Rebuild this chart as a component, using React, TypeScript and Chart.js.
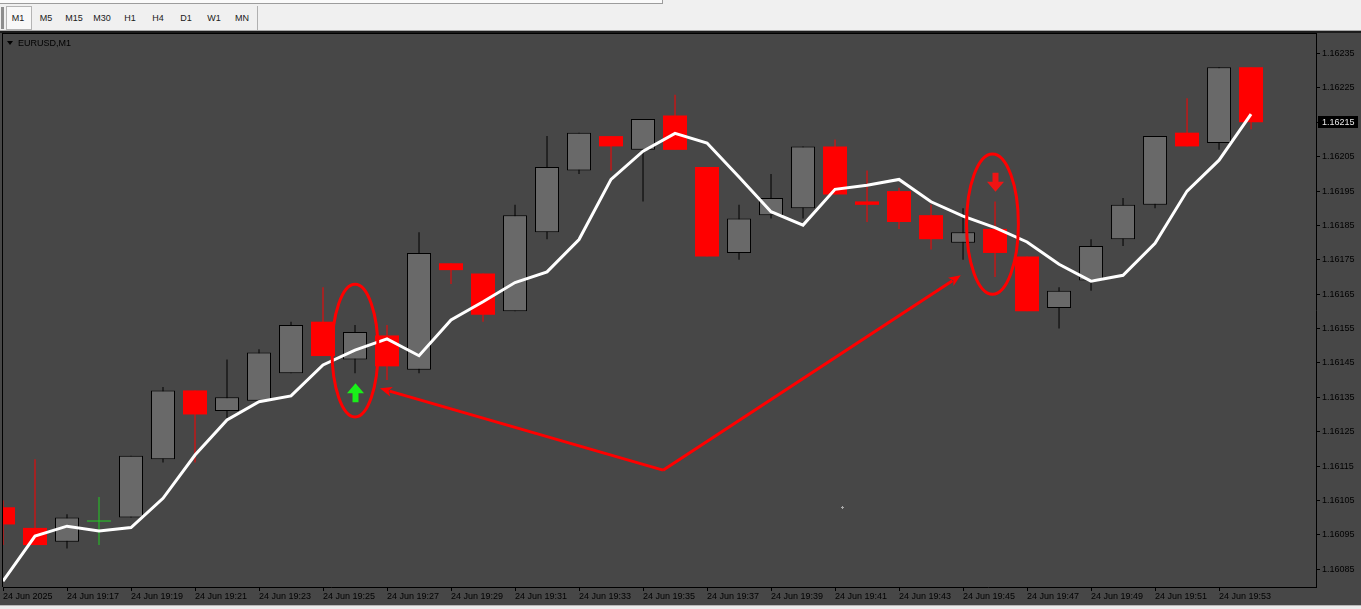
import React, { useEffect, useRef } from 'react';
import { Chart, registerables } from 'chart.js';

Chart.register(...registerables);

// ---- data ----
const categories = ['19:15', '19:16', '19:17', '19:18', '19:19', '19:20', '19:21', '19:22', '19:23', '19:24', '19:25', '19:26', '19:27', '19:28', '19:29', '19:30', '19:31', '19:32', '19:33', '19:34', '19:35', '19:36', '19:37', '19:38', '19:39', '19:40', '19:41', '19:42', '19:43', '19:44', '19:45', '19:46', '19:47', '19:48', '19:49', '19:50', '19:51', '19:52', '19:53', '19:54'];

const opens = [1.16103, 1.16097, 1.16093, 1.16099, 1.16100, 1.16117, 1.16137, 1.16131, 1.16134, 1.16142, 1.16157, 1.16146, 1.16153, 1.16143, 1.16174, 1.16171, 1.16160, 1.16183, 1.16201, 1.16211, 1.16207, 1.16217, 1.16202, 1.16177, 1.16188, 1.16190, 1.16208, 1.16192, 1.16195, 1.16188, 1.16180, 1.16184, 1.16176, 1.16161, 1.16169, 1.16181, 1.16191, 1.16212, 1.16209, 1.16231];
const highs = [1.16105, 1.16117, 1.16101, 1.16106, 1.16118, 1.16138, 1.16137, 1.16146, 1.16149, 1.16157, 1.16167, 1.16156, 1.16156, 1.16183, 1.16174, 1.16171, 1.16191, 1.16211, 1.16212, 1.16211, 1.16216, 1.16223, 1.16202, 1.16191, 1.16200, 1.16208, 1.16210, 1.16201, 1.16196, 1.16191, 1.16190, 1.16192, 1.16176, 1.16167, 1.16181, 1.16193, 1.16211, 1.16222, 1.16231, 1.16231];
const lows = [1.16092, 1.16092, 1.16091, 1.16092, 1.16100, 1.16116, 1.16116, 1.16129, 1.16134, 1.16142, 1.16147, 1.16142, 1.16140, 1.16142, 1.16168, 1.16157, 1.16160, 1.16181, 1.16200, 1.16201, 1.16192, 1.16207, 1.16176, 1.16175, 1.16187, 1.16187, 1.16194, 1.16186, 1.16184, 1.16178, 1.16175, 1.16170, 1.16160, 1.16155, 1.16166, 1.16179, 1.16190, 1.16208, 1.16207, 1.16213];
const closes = [1.16098, 1.16092, 1.16100, 1.16099, 1.16118, 1.16137, 1.16130, 1.16135, 1.16148, 1.16156, 1.16147, 1.16154, 1.16144, 1.16177, 1.16172, 1.16159, 1.16188, 1.16202, 1.16212, 1.16208, 1.16216, 1.16207, 1.16176, 1.16187, 1.16193, 1.16208, 1.16194, 1.16191, 1.16186, 1.16181, 1.16183, 1.16177, 1.16160, 1.16166, 1.16179, 1.16191, 1.16211, 1.16208, 1.16231, 1.16215];
const maValues = [1.160815, 1.160946, 1.160975, 1.160961, 1.160971, 1.161056, 1.161182, 1.161284, 1.161337, 1.161354, 1.161444, 1.161487, 1.161520, 1.161471, 1.161575, 1.161628, 1.161684, 1.161715, 1.161809, 1.161984, 1.162066, 1.162118, 1.162090, 1.161991, 1.161890, 1.161851, 1.161955, 1.161967, 1.161984, 1.161919, 1.161877, 1.161844, 1.161802, 1.161737, 1.161688, 1.161705, 1.161798, 1.161950, 1.162040, 1.162174];

const xTickIndexes = [0, 2, 4, 6, 8, 10, 12, 14, 16, 18, 20, 22, 24, 26, 28, 30, 32, 34, 36, 38];
const xTickLabels = ['24 Jun 2025', '24 Jun 19:17', '24 Jun 19:19', '24 Jun 19:21', '24 Jun 19:23', '24 Jun 19:25', '24 Jun 19:27', '24 Jun 19:29', '24 Jun 19:31', '24 Jun 19:33', '24 Jun 19:35', '24 Jun 19:37', '24 Jun 19:39', '24 Jun 19:41', '24 Jun 19:43', '24 Jun 19:45', '24 Jun 19:47', '24 Jun 19:49', '24 Jun 19:51', '24 Jun 19:53'];
const yTickValues = [1.16085, 1.16095, 1.16105, 1.16115, 1.16125, 1.16135, 1.16145, 1.16155, 1.16165, 1.16175, 1.16185, 1.16195, 1.16205, 1.16215, 1.16225, 1.16235];

const timeframeTabs = ['M1', 'M5', 'M15', 'M30', 'H1', 'H4', 'D1', 'W1', 'MN'];

// annotations in data units (x = bar index, y = price)
const ellipses = [
  { x: 11, y: 1.161486, rx: 0.72, ry: 0.000193 },
  { x: 30.92, y: 1.161854, rx: 0.81, ry: 0.000204 },
];
const arrowVertex = { x: 20.625, y: 1.161138 };
const arrowTips = [
  { x: 11.78, y: 1.161376 },
  { x: 29.93, y: 1.161705 },
];
const signals = [
  { x: 11, y: 1.161391, dir: 'up' },
  { x: 31, y: 1.161948, dir: 'down' },
];
const cursorMark = { x: 26.22, y: 1.16103 };

// ---- styling ----
const X_MIN = 0;
const X_MAX = 41.03;
const Y_MIN = 1.160798;
const Y_MAX = 1.16241;
const BG = '#474747';
const BULL = '#696969';
const BEAR = '#ff0000';
const DOJI = '#22cc22';
const DOJI_HALF = 0.0000015;
const FONT = '"Liberation Sans", Arial, sans-serif';

export default function App() {
  const ref = useRef<HTMLCanvasElement>(null);

  useEffect(() => {
    const canvas = ref.current;
    if (!canvas) return;
    const idx = closes.map((_, i) => i);
    const dir = idx.map((i) => Math.sign(Math.round((closes[i] - opens[i]) * 1e6)));
    const bodyColor = dir.map((d) => (d > 0 ? BULL : d < 0 ? BEAR : DOJI));
    const wickColor = dir.map((d) => (d > 0 ? '#000000' : d < 0 ? BEAR : DOJI));
    const bodyBorder = dir.map((d) => (d > 0 ? 1 : 0));
    const bodyData = idx.map((i) => {
      const lo = Math.min(opens[i], closes[i]);
      const hi = Math.max(opens[i], closes[i]);
      return { x: i, y: dir[i] === 0 ? [lo - DOJI_HALF, hi + DOJI_HALF] : [lo, hi] };
    });
    const wickData = idx.map((i) => ({ x: i, y: [lows[i], highs[i]] }));
    const maData = idx.map((i) => ({ x: i, y: maValues[i] }));

    const bgPlugin = {
      id: 'mtBackground',
      beforeDraw(chart: any) {
        const { ctx, width, height, chartArea } = chart;
        ctx.save();
        ctx.fillStyle = BG;
        ctx.fillRect(0, 0, width, height);
        ctx.fillStyle = '#1c1c1c';
        ctx.fillRect(0, 0, width, 2);
        ctx.fillStyle = '#000';
        ctx.fillRect(chartArea.left - 1, chartArea.top, 1, chartArea.bottom - chartArea.top);
        ctx.fillRect(chartArea.left - 1, chartArea.top, chartArea.right - chartArea.left + 1, 1);
        ctx.restore();
      },
    };

    const annotationPlugin = {
      id: 'mtAnnotations',
      afterDatasetsDraw(chart: any) {
        const { ctx, scales } = chart;
        const xs = scales.x;
        const ys = scales.y;
        const px = (v: number) => xs.getPixelForValue(v);
        const py = (v: number) => ys.getPixelForValue(v);
        ctx.save();
        ctx.strokeStyle = '#ff0000';
        ctx.lineWidth = 3;
        ellipses.forEach((e) => {
          const cx = px(e.x);
          const cy = py(e.y);
          const rx = Math.abs(px(e.x + e.rx) - cx);
          const ry = Math.abs(py(e.y + e.ry) - cy);
          ctx.beginPath();
          ctx.ellipse(cx, cy, rx, ry, 0, 0, Math.PI * 2);
          ctx.stroke();
        });
        const vx = px(arrowVertex.x);
        const vy = py(arrowVertex.y);
        ctx.fillStyle = '#ff0000';
        arrowTips.forEach((t) => {
          const tx = px(t.x);
          const ty = py(t.y);
          const a = Math.atan2(ty - vy, tx - vx);
          const c = Math.cos(a);
          const s = Math.sin(a);
          const headLen = 12;
          const headW = 5;
          const bx = tx - headLen * c;
          const by = ty - headLen * s;
          ctx.lineWidth = 3;
          ctx.beginPath();
          ctx.moveTo(vx, vy);
          ctx.lineTo(bx + 2 * c, by + 2 * s);
          ctx.stroke();
          ctx.beginPath();
          ctx.moveTo(tx, ty);
          ctx.lineTo(bx - headW * s, by + headW * c);
          ctx.lineTo(bx + 3 * c, by + 3 * s);
          ctx.lineTo(bx + headW * s, by - headW * c);
          ctx.closePath();
          ctx.fill();
        });
        signals.forEach((sg) => {
          const cx = Math.round(px(sg.x)) + 0.5;
          const ty = py(sg.y);
          const d = sg.dir === 'up' ? 1 : -1;
          const head = 10;
          const total = 19;
          const hw = 8.5;
          const sw = 3;
          ctx.fillStyle = sg.dir === 'up' ? '#19f019' : '#f01414';
          ctx.beginPath();
          ctx.moveTo(cx, ty);
          ctx.lineTo(cx + hw, ty + d * head);
          ctx.lineTo(cx + sw, ty + d * head);
          ctx.lineTo(cx + sw, ty + d * total);
          ctx.lineTo(cx - sw, ty + d * total);
          ctx.lineTo(cx - sw, ty + d * head);
          ctx.lineTo(cx - hw, ty + d * head);
          ctx.closePath();
          ctx.fill();
        });
        const mx = Math.round(px(cursorMark.x));
        const my = Math.round(py(cursorMark.y));
        ctx.fillStyle = '#a8a8a8';
        ctx.fillRect(mx - 1, my, 3, 1);
        ctx.fillRect(mx, my - 1, 1, 3);
        ctx.restore();
      },
      afterDraw(chart: any) {
        const { ctx, scales, chartArea } = chart;
        const v = closes[closes.length - 1];
        const y = Math.round(scales.y.getPixelForValue(v));
        ctx.save();
        ctx.fillStyle = '#000';
        ctx.fillRect(chartArea.right + 2, y - 6, 40, 12);
        ctx.fillStyle = '#e8e8e8';
        ctx.font = '9px ' + FONT;
        ctx.textBaseline = 'middle';
        ctx.textAlign = 'left';
        ctx.fillText(v.toFixed(5), chartArea.right + 6, y + 0.5);
        ctx.restore();
      },
    };

    const tickFont = { family: FONT, size: 9 };

    const chart = new Chart(canvas, {
      type: 'bar',
      data: {
        labels: categories,
        datasets: [
          {
            type: 'line',
            label: 'MA',
            data: maData as any,
            borderColor: '#ffffff',
            borderWidth: 3,
            pointRadius: 0,
            tension: 0,
            order: 0,
          } as any,
          {
            type: 'bar',
            label: 'Body',
            data: bodyData as any,
            backgroundColor: bodyColor,
            borderColor: '#000000',
            borderWidth: bodyBorder,
            borderSkipped: false,
            barThickness: 24,
            grouped: false,
            inflateAmount: 0,
            order: 1,
          } as any,
          {
            type: 'bar',
            label: 'Wick',
            data: wickData as any,
            backgroundColor: wickColor,
            borderWidth: 0,
            barThickness: 1,
            grouped: false,
            inflateAmount: 0,
            order: 2,
          } as any,
        ],
      },
      options: {
        responsive: false,
        animation: false,
        events: [],
        layout: { padding: { left: 3, top: 2, right: 0, bottom: 0 } },
        plugins: { legend: { display: false }, tooltip: { enabled: false } },
        scales: {
          x: {
            type: 'linear',
            min: X_MIN,
            max: X_MAX,
            offset: false,
            grid: { display: true, offset: false, drawOnChartArea: false, drawTicks: true, tickLength: 4, color: '#000' },
            border: { display: true, color: '#000', width: 1 },
            ticks: {
              autoSkip: false,
              maxRotation: 0,
              minRotation: 0,
              align: 'start',
              padding: 0,
              color: '#000',
              font: tickFont,
              callback: (v: any) => {
                const k = xTickIndexes.indexOf(Math.round(Number(v)));
                return k >= 0 ? xTickLabels[k] : '';
              },
            },
            afterBuildTicks: (s: any) => {
              s.ticks = xTickIndexes.map((v) => ({ value: v }));
            },
            afterFit: (s: any) => {
              s.height = 18;
              s.paddingLeft = 0;
              s.paddingRight = 0;
              s.paddingTop = 0;
              s.paddingBottom = 0;
            },
          },
          y: {
            type: 'linear',
            position: 'right',
            min: Y_MIN,
            max: Y_MAX,
            grid: { display: true, drawOnChartArea: false, drawTicks: true, tickLength: 4, color: '#000' },
            border: { display: true, color: '#000', width: 1 },
            ticks: {
              padding: 2,
              color: '#000',
              font: tickFont,
              callback: (v: any) => Number(v).toFixed(5),
            },
            afterBuildTicks: (s: any) => {
              s.ticks = yTickValues.map((v) => ({ value: v }));
            },
            afterFit: (s: any) => {
              s.width = 45;
              s.paddingLeft = 0;
              s.paddingRight = 0;
              s.paddingTop = 0;
              s.paddingBottom = 0;
            },
          },
        },
      } as any,
      plugins: [bgPlugin, annotationPlugin],
    });
    return () => chart.destroy();
  }, []);

  return (
    <div style={{ position: 'fixed', left: 0, top: 0, width: 1361, height: 609, overflow: 'hidden', background: '#f0f0f0', fontFamily: FONT }}>
      <div style={{ position: 'absolute', left: 0, top: 0, width: 662, height: 3, background: '#fafafa', borderBottom: '1px solid #9c9c9c', borderRight: '1px solid #9c9c9c' }} />
      <div style={{ position: 'absolute', left: 1, top: 7, width: 3, height: 22, backgroundImage: 'radial-gradient(#8a8a8a 0.7px, transparent 0.9px)', backgroundSize: '2px 2px' }} />
      <div style={{ position: 'absolute', left: 6, top: 6, width: 26, height: 24, boxSizing: 'border-box', border: '1px solid #b4b4b4', background: '#f8f8f8' }} />
      {timeframeTabs.map((t, i) => (
        <div key={t} style={{ position: 'absolute', left: 18 + i * 28 - 15, top: 12, width: 30, textAlign: 'center', fontSize: 9, lineHeight: '12px', color: '#202020' }}>{t}</div>
      ))}
      <div style={{ position: 'absolute', left: 257, top: 6, width: 1, height: 24, background: '#b0b0b0' }} />
      <div style={{ position: 'absolute', left: 0, top: 30, width: 1361, height: 1, background: '#a8a8a8' }} />
      <canvas ref={ref} width={1361} height={574} style={{ position: 'absolute', left: 0, top: 31, width: 1361, height: 574, display: 'block' }} />
      <div style={{ position: 'absolute', left: 7, top: 41, width: 0, height: 0, borderLeft: '3px solid transparent', borderRight: '3px solid transparent', borderTop: '4px solid #000' }} />
      <div style={{ position: 'absolute', left: 18, top: 37, fontSize: 9, lineHeight: '12px', color: '#000' }}>EURUSD,M1</div>
      <div style={{ position: 'absolute', left: 0, top: 605, width: 1361, height: 4, background: '#ececec', borderTop: '1px solid #b8b8b8', boxSizing: 'border-box' }} />
    </div>
  );
}
